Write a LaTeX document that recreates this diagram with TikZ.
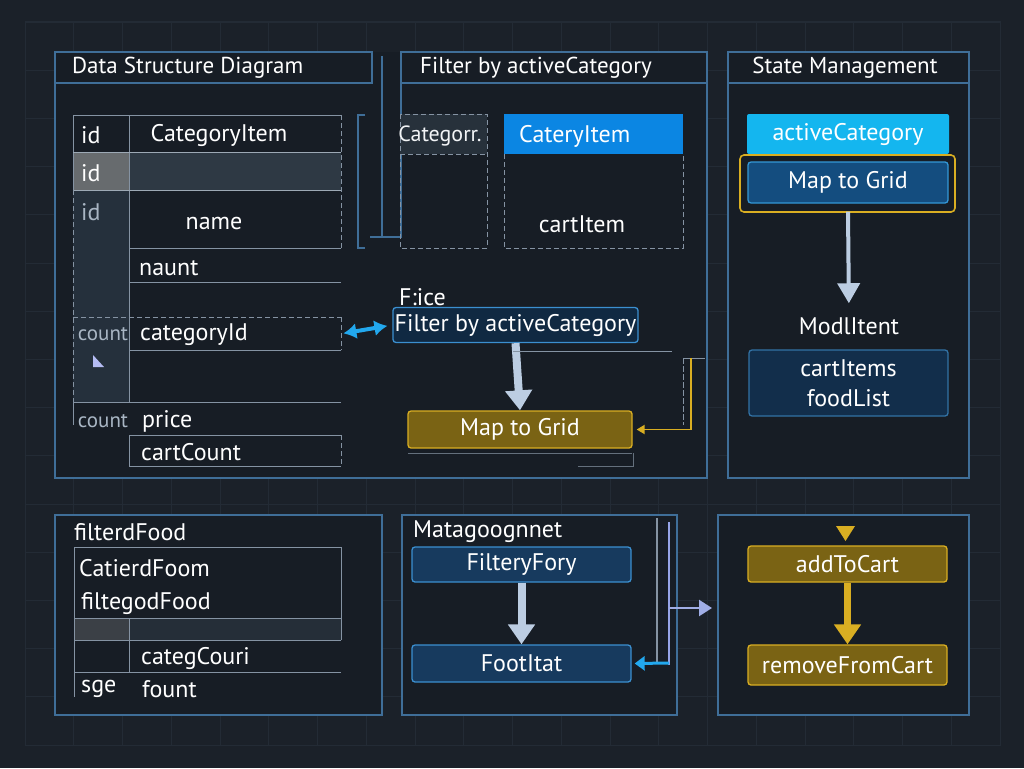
\documentclass[tikz,border=0pt]{standalone}
\usepackage{fontspec}
\setmainfont{PT Sans}
\usetikzlibrary{arrows.meta}
\definecolor{bg}{HTML}{1B2129}
\definecolor{panel}{HTML}{171D25}
\definecolor{pborder}{HTML}{3F6E98}
\definecolor{gridc}{HTML}{232B35}
\definecolor{tline}{HTML}{8593A3}
\definecolor{dimtext}{HTML}{A9B6C4}
\definecolor{brightblue}{HTML}{0B86E3}
\definecolor{cyanfill}{HTML}{14B6EF}
\definecolor{nodeblue}{HTML}{173A5E}
\definecolor{nodeborder}{HTML}{3B8FD0}
\definecolor{goldfill}{HTML}{7A6314}
\definecolor{goldborder}{HTML}{D9AE22}
\definecolor{steel}{HTML}{BCCDE2}
\definecolor{arrowcyan}{HTML}{22A8EE}
\definecolor{colshade}{HTML}{25303C}
\definecolor{rowshade}{HTML}{2E3944}
\definecolor{cellgray}{HTML}{676B6E}
\begin{document}
\begin{tikzpicture}[x=1pt,y=-1pt,
  lbl/.style={text=white, inner sep=0pt, font=\fontsize{24}{28}\selectfont},
  ttl/.style={text=white, inner sep=0pt, font=\fontsize{23}{27}\selectfont},
  dim/.style={lbl, text=dimtext},
  panelline/.style={draw=pborder, line width=1.3pt},
  tablel/.style={draw=tline, line width=1pt},
  dashl/.style={draw=tline, line width=1pt, dash pattern=on 5pt off 3pt},
  bluenode/.style={draw=nodeborder, fill=nodeblue, rounded corners=3pt, line width=1.3pt, text=white, inner sep=0pt, font=\fontsize{24}{28}\selectfont},
  goldnode/.style={draw=goldborder, fill=goldfill, rounded corners=3pt, line width=1.3pt, text=white, inner sep=0pt, font=\fontsize{24}{28}\selectfont},
  bigarrow/.style={draw=steel, line width=8pt, -{Triangle[length=20pt,width=26pt]}},
  goldarrow/.style={draw=goldborder, line width=7pt, -{Triangle[length=20pt,width=26pt]}},
  thinarrow/.style={line width=2pt, -{Triangle[length=8pt,width=9pt]}}
]
\useasboundingbox (0,0) rectangle (1024,768);
\fill[bg] (0,0) rectangle (1024,768);
% grid
\foreach \i in {0,...,20} \draw[gridc, line width=0.7pt] ({25+\i*48.75},22) -- ({25+\i*48.75},745);
\foreach \j in {0,...,15} \draw[gridc, line width=0.7pt] (25,{22+\j*48.2}) -- (1000,{22+\j*48.2});
\draw[gridc, line width=1pt] (25,22) rectangle (1000,745);

% ---------- panels ----------
\fill[panel] (55,52) rectangle (707,478);
\fill[panel] (728,52) rectangle (969,478);
\fill[panel] (55,515) rectangle (382,715);
\fill[panel] (402,515) rectangle (677,715);
\fill[panel] (718,515) rectangle (969,715);
\draw[panelline] (55,52) -- (55,478) -- (707,478) -- (707,52);
\draw[panelline] (55,52) rectangle (372,83);
\draw[panelline] (401,52) rectangle (707,83);
\draw[panelline] (728,52) rectangle (969,478);
\draw[panelline] (728,83) -- (969,83);
\draw[panelline] (55,515) rectangle (382,715);
\draw[panelline] (402,515) rectangle (677,715);
\draw[panelline] (718,515) rectangle (969,715);

\node[ttl, anchor=west] (t1) at (72,68) {Data Structure Diagram};
\node[ttl] (t2) at (536,68) {Filter by activeCategory};
\node[ttl] (t3) at (845,68) {State Management};

% ---------- data structure table ----------
\fill[colshade] (73,190) rectangle (129,402);
\fill[cellgray] (73,152) rectangle (129,190);
\fill[rowshade] (129,152) rectangle (341,190);
\draw[tablel] (73,115) -- (341,115);
\draw[tablel] (73,115) -- (73,190);
\draw[tablel] (129,115) -- (129,402);
\draw[dashl] (341,115) -- (341,248);
\draw[draw=tline!80!white, line width=1pt] (73,152) -- (341,152);
\draw[draw=tline!80!white, line width=1pt] (73,190) -- (341,190);
\draw[tablel] (129,248) -- (341,248);
\draw[dashl] (73,190) -- (73,402);
\draw[tablel] (129,282) -- (341,282);
\draw[dashl] (73,317) -- (341,317);
\draw[dashl] (341,317) -- (341,350);
\draw[tablel] (129,350) -- (341,350);
\draw[tablel] (73,402) -- (341,402);
\draw[tablel] (73,402) -- (73,425);
\draw[tablel] (129,435) -- (341,435);
\draw[dashl] (341,435) -- (341,466);
\draw[tablel] (129,435) -- (129,466) -- (341,466);
\fill[steel!70!blue!60!white] (93,355) -- (93,367) -- (104,367) -- cycle;

\node[lbl, anchor=west] (id1) at (81,135) {id};
\node[lbl] (catitem) at (219,135) {CategoryItem};
\node[lbl, anchor=west] (id2) at (81,173) {id};
\node[dim, anchor=west] (id3) at (81,212) {id};
\node[lbl] (name) at (214,223) {name};
\node[lbl, anchor=west] (naunt) at (139,268) {naunt};
\node[dim, font=\fontsize{21}{25}\selectfont] (count1) at (103,334) {count};
\node[lbl, anchor=west] (catid) at (140,335) {categoryId};
\node[inner sep=0pt, minimum width=212, minimum height=33, anchor=north west] (catbox) at (129,317) {};
\node[dim, font=\fontsize{21}{25}\selectfont] (count2) at (103,421) {count};
\node[lbl, anchor=west] (price) at (142,421) {price};
\node[lbl, anchor=west] (cartcount) at (141,452) {cartCount};

% bracket & dividers
\draw[pborder, line width=1.2pt] (365,115) -- (358,115) -- (358,248) -- (365,248);
\draw[pborder, line width=1.2pt] (382,56) -- (382,237);
\draw[pborder, line width=1.2pt] (401,83) -- (401,237) -- (370,237);

% ---------- middle top ----------
\fill[rowshade!70!panel] (400,114) rectangle (487,154);
\draw[dashl] (400,114) rectangle (487,248);
\draw[dashl] (400,154) -- (487,154);
\node[dim, text=white!85!dimtext, font=\fontsize{22}{26}\selectfont] (categorr) at (440,136) {Categorr.};
\node[fill=brightblue, minimum width=179, minimum height=40, inner sep=0pt, anchor=north west] (cateryhead) at (504,114) {};
\node[lbl, anchor=west] (cateryitem) at (519,136) {CateryItem};
\draw[dashl] (504,154) -- (504,248) -- (683,248) -- (683,154);
\node[lbl] (cartitem) at (582,224) {cartItem};

\node[lbl, anchor=west] (fice) at (399,297) {F:ice};
\node[bluenode, fill=nodeblue!70!black, minimum width=245, minimum height=35] (filt) at (515.5,325) {Filter by activeCategory};
\node[goldnode, minimum width=224, minimum height=37] (mapg) at (520,429.5) {Map to Grid};
\draw[bigarrow] (filt.south) -- (mapg.north);
\draw[arrowcyan, line width=4pt, {Latex[length=13pt,width=16pt]}-{Latex[length=13pt,width=16pt]}, shorten <=2pt, shorten >=5pt] (catbox.east) -- (filt.west);

\draw[tline, line width=1pt] (513,351) -- (672,351);
\draw[tline, line width=1pt, dash pattern=on 6pt off 2pt] (683,358) -- (683,425);
\draw[tline, line width=1pt] (683,358) -- (705,358);
\coordinate (ystart) at (691,358);
\draw[goldborder, thinarrow, line width=1.8pt] (ystart) |- ([xshift=4pt]mapg.east);
\draw[tline!70!panel, line width=1pt] (408,453) -- (632,453);
\draw[tline!70!panel, line width=1pt] (578,466) -- (633,466) -- (633,453);

% ---------- right top ----------
\node[fill=cyanfill, rounded corners=2pt, minimum width=202, minimum height=40, text=white, inner sep=0pt, font=\fontsize{24}{28}\selectfont] (active) at (848,134) {activeCategory};
\draw[goldborder, line width=1.6pt, rounded corners=4pt] (740,155) rectangle (955,212);
\node[bluenode, fill=nodeblue!75!brightblue, draw=nodeborder!80!cyanfill, minimum width=200, minimum height=41] (rmap) at (848,182.5) {Map to Grid};
\node[lbl] (modl) at (849,326) {ModlItent};
\draw[bigarrow, line width=4pt, -{Triangle[length=20pt,width=22pt]}, shorten >=14pt] ([yshift=-8pt]rmap.south) -- (modl.north);
\node[bluenode, fill=nodeblue!80!black, draw=nodeborder!75!panel, minimum width=199, minimum height=66, align=center, font=\fontsize{24}{30}\selectfont] (state) at (848.5,383) {cartItems\\foodList};

% ---------- bottom left ----------
\node[lbl, anchor=west] (filterd) at (74,532) {filterdFood};
\fill[rowshade!60!panel] (129,618) rectangle (341,640);
\fill[cellgray!45!panel] (74,618) rectangle (129,640);
\draw[tablel] (74,547) -- (341,547);
\draw[tablel] (341,547) -- (341,640);
\draw[tablel] (74,547) -- (74,697);
\draw[tablel] (74,618) -- (341,618);
\draw[tablel] (74,640) -- (341,640);
\draw[tablel] (129,618) -- (129,672);
\draw[tablel] (74,672) -- (341,672);
\node[lbl, anchor=west] (catierd) at (79,568) {CatierdFoom};
\node[lbl, anchor=west] (filtegod) at (81,604) {filtegodFood};
\node[lbl, anchor=west] (categc) at (141,658) {categCouri};
\node[lbl, anchor=west] (sge) at (81,689) {sge};
\node[lbl, anchor=west] (fount) at (142,689) {fount};

% ---------- bottom middle ----------
\node[lbl, anchor=west] (mata) at (413,532) {Matagoognnet};
\node[bluenode, minimum width=219, minimum height=35] (fy) at (521.5,564.5) {FilteryFory};
\node[bluenode, minimum width=219, minimum height=37] (ft) at (521.5,663.5) {FootItat};
\draw[bigarrow] (fy.south) -- (ft.north);
\draw[tline, line width=1.2pt] (657,518) -- (657,663);
\draw[steel!80!blue, line width=1.2pt] (669,522) -- (669,665);
\coordinate (cstart) at (669,663);
\draw[arrowcyan, line width=3pt, -{Triangle[length=10pt,width=14pt]}] (cstart) -- ([xshift=3pt]ft.east);
\coordinate (sstart) at (669,608);
\coordinate (send) at (712,608);
\draw[steel!85!blue, line width=2.5pt, -{Triangle[length=13pt,width=16pt]}] (sstart) -- (send);

% ---------- bottom right ----------
\node[goldnode, minimum width=199, minimum height=36] (add) at (847.5,564) {addToCart};
\node[goldnode, minimum width=199, minimum height=40] (rem) at (847.5,665) {removeFromCart};
\fill[goldborder] (836,526) -- (855,526) -- (845.5,541) -- cycle;
\draw[goldarrow] (add.south) -- (rem.north);
\end{tikzpicture}
\end{document}
